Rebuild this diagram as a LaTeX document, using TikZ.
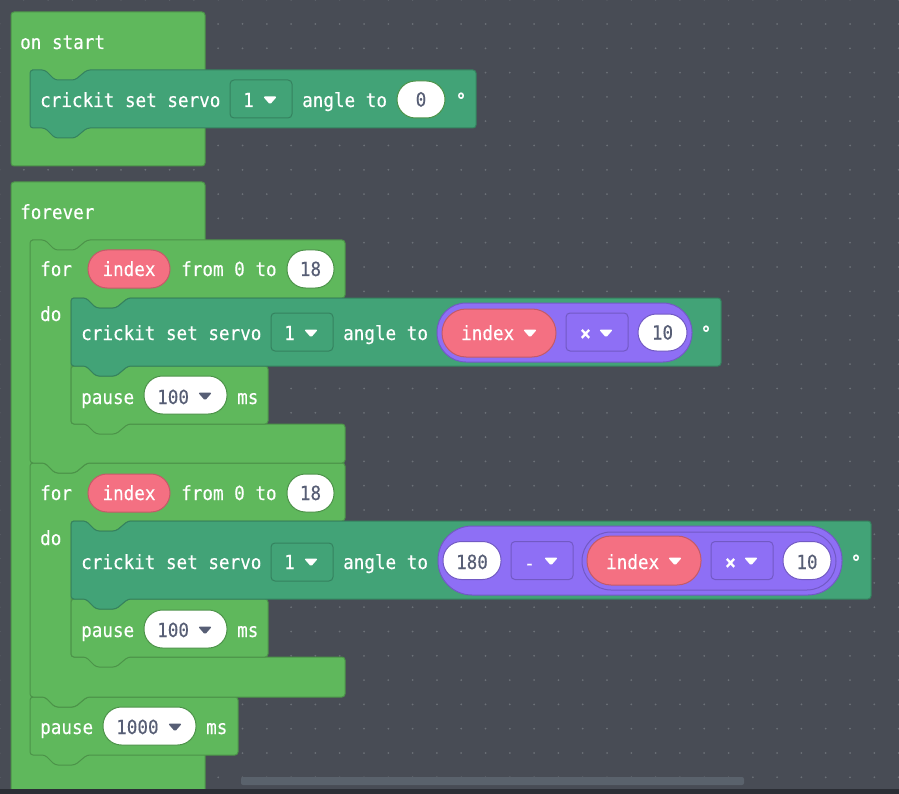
\documentclass[tikz,border=0pt]{standalone}
\usepackage{fontspec}
\setmonofont[FakeStretch=0.903,FakeBold=0.25]{DejaVu Sans Mono}

\definecolor{canvas}{HTML}{484C55}
\definecolor{canvasdot}{HTML}{6B7077}
\definecolor{statusbar}{HTML}{2B2E35}
\definecolor{scrollthumb}{HTML}{5A626C}
\definecolor{loopgreen}{HTML}{5FB85C}
\definecolor{loopline}{HTML}{4C9349}
\definecolor{servoteal}{HTML}{42A377}
\definecolor{servoline}{HTML}{35825F}
\definecolor{varred}{HTML}{F47082}
\definecolor{varline}{HTML}{C35A68}
\definecolor{mathpurple}{HTML}{8E6FF5}
\definecolor{mathline}{HTML}{7259C4}
\definecolor{fieldtext}{HTML}{575E75}

\tikzset{
  loopblock/.style={fill=loopgreen,draw=loopline,line width=1pt,rounded corners=3pt},
  servoblock/.style={fill=servoteal,draw=servoline,line width=1pt,rounded corners=3pt},
  label/.style={anchor=base west,inner sep=0pt,yshift=-1pt,text=white,font=\ttfamily\fontsize{19.5}{22}\selectfont},
  fieldlabel/.style={label,text=fieldtext},
  boldlabel/.style={label,font=\ttfamily\bfseries\fontsize{19.5}{22}\selectfont},
  pill/.style={inner sep=0pt,line width=1pt,text height=14pt,text depth=0pt,font=\ttfamily\fontsize{19.5}{22}\selectfont},
  numpill/.style={pill,fill=white,draw=loopline,text=fieldtext,rounded corners=18.5pt},
  varpill/.style={pill,fill=varred,draw=varline,rounded corners=19pt},
  mathpill/.style={pill,fill=mathpurple,draw=mathline,rounded corners=29pt},
  servodrop/.style={pill,fill=servoteal,draw=servoline,rounded corners=4pt,minimum width=62pt,minimum height=38pt},
  mathdrop/.style={pill,fill=mathpurple,draw=mathline,rounded corners=4pt,minimum width=62pt,minimum height=38pt}
}

% x1 y1 x2 y2
\newcommand{\stackblock}[5]{
\draw[#1] (#2+5,#3) -- (#2+15,#3) -- (#2+25,#3+10) -- (#2+45,#3+10) -- (#2+57,#3) -- (#4,#3)
  -- (#4,#5) -- (#2+57,#5) -- (#2+45,#5+10) -- (#2+25,#5+10) -- (#2+15,#5) -- (#2,#5) -- (#2,#3) -- cycle;
}
% x1 y1 x2 arm bottom, lower arm top, y2
\newcommand{\loopblock}[6]{
\draw[loopblock] (#1+5,#2) -- (#1+15,#2) -- (#1+25,#2+10) -- (#1+45,#2+10) -- (#1+57,#2) -- (#3,#2)
  -- (#3,#4) -- (#1+98,#4) -- (#1+86,#4+10) -- (#1+66,#4+10) -- (#1+56,#4) -- (#1+41,#4)
  -- (#1+41,#5) -- (#3,#5) -- (#3,#6) -- (#1+57,#6) -- (#1+45,#6+10) -- (#1+25,#6+10) -- (#1+15,#6) -- (#1,#6) -- (#1,#2) -- cycle;
}
\newcommand{\droptri}[3]{
\fill[#1,rounded corners=1.5pt] (#2-7,#3-3.5) -- (#2+7,#3-3.5) -- (#2,#3+4.5) -- cycle;
}

\begin{document}
\begin{tikzpicture}[x=1pt,y=-1pt]
\useasboundingbox (0,0) rectangle (899,794);
\fill[canvas] (0,0) rectangle (899,794);
\foreach \i in {0,...,37}
  \foreach \j in {0,...,32}
    \fill[canvasdot] (24.3*\i-0.5,24.3*\j-0.3) circle (1pt);

% on start
\draw[loopblock] (11,12) rectangle (205,166);
\node[label] (onstart) at (20,48) {on start};
\stackblock{servoblock}{30}{70}{476}{128}
\node[label] (servotext) at (40,106) {crickit set servo};
\node[servodrop] (servodrop) at (261,99) {};
\node[label] (servonum) at (243,106) {1};
\droptri{white}{270}{100}
\node[label] (angletext) at (302,106) {angle to};
\node[numpill,minimum width=48pt,minimum height=37pt] (anglezero) at (421,99.5) {0};
\node[boldlabel] (degstart) at (455.5,106) {°};

% forever
\draw[loopblock] (11,182) rectangle (205,800);
\node[label] (forever) at (20,218) {forever};

% pause after the loops
\stackblock{loopblock}{30}{697}{238}{755}
\node[label] (pausethree) at (40,733) {pause};
\node[numpill,minimum width=93pt,minimum height=38pt] (pausethreeval) at (149.5,726) {};
\node[fieldlabel] (pausethreenum) at (116,733) {1000};
\droptri{fieldtext}{175}{727}
\node[label] (pausethreems) at (206,733) {ms};

% second loop
\loopblock{30}{463}{345}{521}{657}{697}
\node[label] (fortwo) at (40,499) {for};
\node[varpill,minimum width=82pt,minimum height=38pt] (indextwo) at (129,493) {\textcolor{white}{index}};
\node[label] (fromtwo) at (181,499) {from 0 to};
\node[numpill,minimum width=47pt,minimum height=38pt] (toptwo) at (310.5,493) {18};
\node[label] (dotwo) at (40,544) {do};
\stackblock{loopblock}{71}{599}{268}{657}
\node[label] (pausetwo) at (81,636) {pause};
\node[numpill,minimum width=83pt,minimum height=38pt] (pausetwoval) at (185.5,629) {};
\node[fieldlabel] (pausetwonum) at (157,636) {100};
\droptri{fieldtext}{205}{630}
\node[label] (pausetwoms) at (237,636) {ms};
\stackblock{servoblock}{71}{521}{871}{599}
\node[label] (servotexttwo) at (81,568) {crickit set servo};
\node[servodrop] (servodroptwo) at (302,562) {};
\node[label] (servonumtwo) at (284,568) {1};
\droptri{white}{311}{562}
\node[label] (angletwo) at (343,568) {angle to};
\node[mathpill,minimum width=404pt,minimum height=69pt,rounded corners=34pt] (subpill) at (640,560.5) {};
\node[numpill,draw=mathline,text height=17pt,minimum width=58pt,minimum height=38pt] (oneeighty) at (472,560.5) {180};
\node[mathdrop] (subdrop) at (542,560.5) {};
\node[label] (subsign) at (524,569) {-};
\droptri{white}{551}{561}
\node[mathpill,minimum width=254pt,minimum height=58pt] (multpilltwo) at (709,561) {};
\node[varpill,minimum width=114pt,minimum height=49pt,rounded corners=24pt] (indexthree) at (644,560.5) {};
\node[label] (indexthreetext) at (606,568) {index};
\droptri{white}{675}{561}
\node[mathdrop] (multdroptwo) at (742,560.5) {};
\node[boldlabel] (multsigntwo) at (725,568) {×};
\droptri{white}{751}{561}
\node[numpill,draw=mathline,text height=17pt,minimum width=48pt,minimum height=38pt] (tentwo) at (807,560.5) {10};
\node[boldlabel] (degtwo) at (850.5,568) {°};

% first loop
\loopblock{30}{240}{345}{298}{424}{463}
\node[label] (forone) at (40,275) {for};
\node[varpill,minimum width=82pt,minimum height=38pt] (indexone) at (129,269) {\textcolor{white}{index}};
\node[label] (fromone) at (181,275) {from 0 to};
\node[numpill,minimum width=47pt,minimum height=38pt] (topone) at (310.5,269) {18};
\node[label] (doone) at (40,320) {do};
\stackblock{loopblock}{71}{366}{268}{424}
\node[label] (pauseone) at (81,403) {pause};
\node[numpill,minimum width=83pt,minimum height=38pt] (pauseoneval) at (185.5,395) {};
\node[fieldlabel] (pauseonenum) at (157,403) {100};
\droptri{fieldtext}{205}{396}
\node[label] (pauseonems) at (237,403) {ms};
\stackblock{servoblock}{71}{298}{721}{366}
\node[label] (servotextone) at (81,339) {crickit set servo};
\node[servodrop] (servodropone) at (302,332) {};
\node[label] (servonumone) at (284,339) {1};
\droptri{white}{311}{333}
\node[label] (angleone) at (343,339) {angle to};
\node[mathpill,minimum width=255pt,minimum height=59pt] (multpillone) at (564.5,332.5) {};
\node[varpill,minimum width=114pt,minimum height=48pt,rounded corners=24pt] (indexfour) at (499,333) {};
\node[label] (indexfourtext) at (461,339) {index};
\droptri{white}{530}{333}
\node[mathdrop] (multdropone) at (597,332) {};
\node[boldlabel] (multsignone) at (580,339) {×};
\droptri{white}{606}{333}
\node[numpill,draw=mathline,minimum width=49pt,minimum height=37pt] (tenone) at (662.5,332.5) {10};
\node[boldlabel] (degone) at (700.5,339) {°};

% window bits
\fill[statusbar] (0,789) rectangle (899,794);
\fill[scrollthumb,rounded corners=2pt] (241,777) rectangle (744,785);
\end{tikzpicture}
\end{document}
